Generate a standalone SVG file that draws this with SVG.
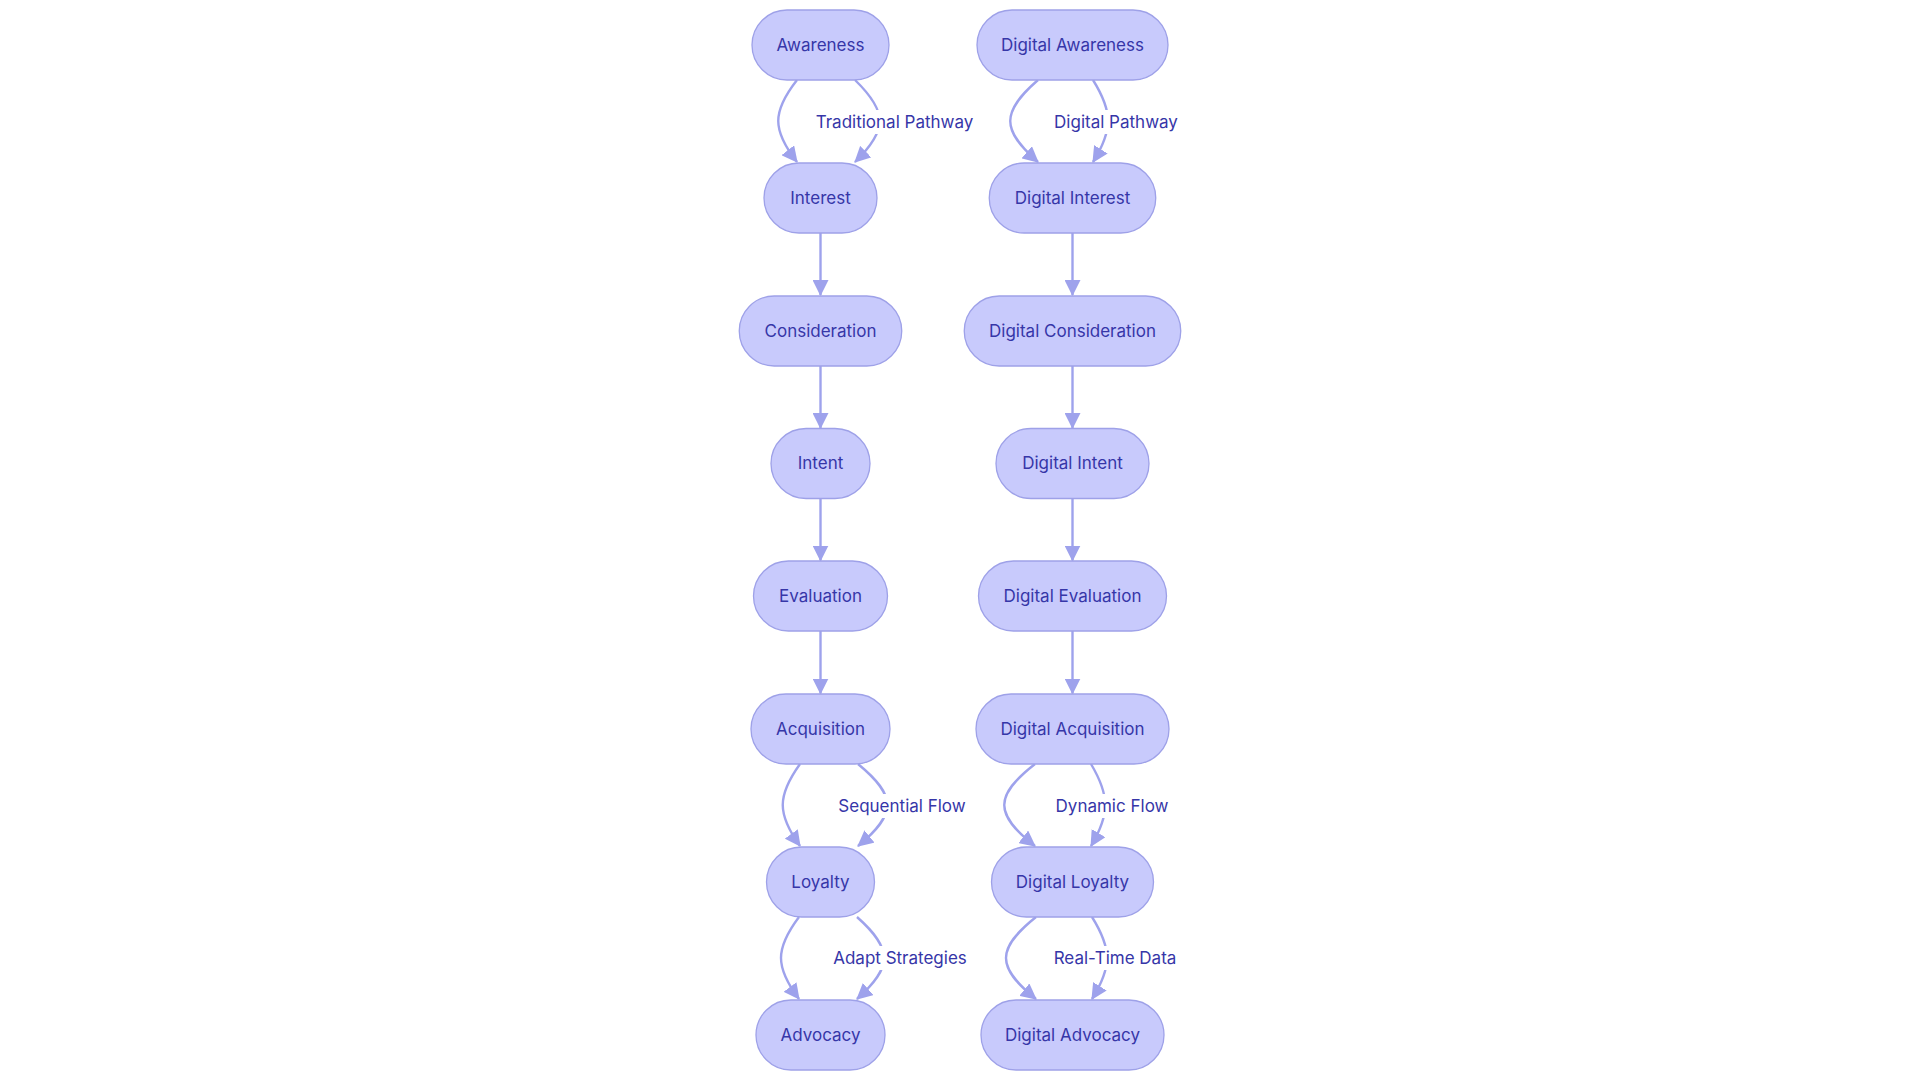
<svg xmlns="http://www.w3.org/2000/svg" width="1920" height="1080" viewBox="0 0 1920 1080">
<defs>
<style>
.node rect{fill:#c8cafc;stroke:#9ea1e8;stroke-width:1.3}
.node text,.lbl text{font-family:Inter,"Noto Sans",sans-serif;font-size:17px;fill:#3636a8;text-anchor:middle;dominant-baseline:central}
.edges path{fill:none;stroke:#9ea2ec;stroke-width:2.4}
.lbl rect{fill:#ffffff}
</style>
<marker id="arr" markerUnits="userSpaceOnUse" markerWidth="16" markerHeight="16" viewBox="0 0 15 15" refX="14" refY="7.5" orient="auto">
<path d="M0,0 L15,7.5 L0,15 z" fill="#9ea2ec"/>
</marker>
</defs>
<rect width="1920" height="1080" fill="#ffffff"/>
<g class="edges">
<path d="M797,80 C772,112 772,130 797,162" marker-end="url(#arr)"/>
<path d="M855,80 C888,112 888,130 855,162" marker-end="url(#arr)"/>
<path d="M1038,80 C1001,112 1001,130 1038,162" marker-end="url(#arr)"/>
<path d="M1093,80 C1113,112 1113,130 1093,162" marker-end="url(#arr)"/>
<path d="M820.5,233 L820.5,295" marker-end="url(#arr)"/>
<path d="M1072.5,233 L1072.5,295" marker-end="url(#arr)"/>
<path d="M820.5,366 L820.5,428" marker-end="url(#arr)"/>
<path d="M1072.5,366 L1072.5,428" marker-end="url(#arr)"/>
<path d="M820.5,498.5 L820.5,560.5" marker-end="url(#arr)"/>
<path d="M1072.5,498.5 L1072.5,560.5" marker-end="url(#arr)"/>
<path d="M820.5,631 L820.5,693.5" marker-end="url(#arr)"/>
<path d="M1072.5,631 L1072.5,693.5" marker-end="url(#arr)"/>
<path d="M800,764 C777,796 777,814 800,846" marker-end="url(#arr)"/>
<path d="M858,764 C897,796 897,814 858,846" marker-end="url(#arr)"/>
<path d="M1035,764 C994,796 994,814 1035,846" marker-end="url(#arr)"/>
<path d="M1091,764 C1110,796 1110,814 1091,846" marker-end="url(#arr)"/>
<path d="M799,917 C775,949 775,967 799,999" marker-end="url(#arr)"/>
<path d="M857,917 C893,949 893,967 857,999" marker-end="url(#arr)"/>
<path d="M1036,917 C996,949 996,967 1036,999" marker-end="url(#arr)"/>
<path d="M1092,917 C1112,949 1112,967 1092,999" marker-end="url(#arr)"/>
</g>
<g class="lbl">
<rect x="816" y="110" width="157" height="24"/><text x="894.5" y="121.5">Traditional Pathway</text>
<rect x="1054" y="110" width="124" height="24"/><text x="1116" y="121.5">Digital Pathway</text>
<rect x="839" y="794" width="126" height="24"/><text x="902" y="805.5">Sequential Flow</text>
<rect x="1058" y="794" width="108" height="24"/><text x="1112" y="805.5">Dynamic Flow</text>
<rect x="831" y="946" width="138" height="24"/><text x="900" y="957.5">Adapt Strategies</text>
<rect x="1054" y="946" width="122" height="24"/><text x="1115" y="957.5">Real-Time Data</text>
</g>
<g id="A" class="node"><rect x="752" y="10" width="137" height="70" rx="35"/><text x="820.5" y="44.5">Awareness</text></g>
<g id="B" class="node"><rect x="764" y="163" width="113" height="70" rx="35"/><text x="820.5" y="197.5">Interest</text></g>
<g id="C" class="node"><rect x="739.25" y="296" width="162.5" height="70" rx="35"/><text x="820.5" y="330.5">Consideration</text></g>
<g id="D" class="node"><rect x="771" y="428.5" width="99" height="70" rx="35"/><text x="820.5" y="463">Intent</text></g>
<g id="E" class="node"><rect x="753.5" y="561" width="134" height="70" rx="35"/><text x="820.5" y="595.5">Evaluation</text></g>
<g id="F" class="node"><rect x="751" y="694" width="139" height="70" rx="35"/><text x="820.5" y="728.5">Acquisition</text></g>
<g id="G" class="node"><rect x="766.5" y="847" width="108" height="70" rx="35"/><text x="820.5" y="881.5">Loyalty</text></g>
<g id="H" class="node"><rect x="756" y="1000" width="129" height="70" rx="35"/><text x="820.5" y="1034.5">Advocacy</text></g>
<g id="A2" class="node"><rect x="977" y="10" width="191" height="70" rx="35"/><text x="1072.5" y="44.5">Digital Awareness</text></g>
<g id="B2" class="node"><rect x="989.25" y="163" width="166.5" height="70" rx="35"/><text x="1072.5" y="197.5">Digital Interest</text></g>
<g id="C2" class="node"><rect x="964.25" y="296" width="216.5" height="70" rx="35"/><text x="1072.5" y="330.5">Digital Consideration</text></g>
<g id="D2" class="node"><rect x="996" y="428.5" width="153" height="70" rx="35"/><text x="1072.5" y="463">Digital Intent</text></g>
<g id="E2" class="node"><rect x="978.5" y="561" width="188" height="70" rx="35"/><text x="1072.5" y="595.5">Digital Evaluation</text></g>
<g id="F2" class="node"><rect x="976" y="694" width="193" height="70" rx="35"/><text x="1072.5" y="728.5">Digital Acquisition</text></g>
<g id="G2" class="node"><rect x="991.5" y="847" width="162" height="70" rx="35"/><text x="1072.5" y="881.5">Digital Loyalty</text></g>
<g id="H2" class="node"><rect x="981" y="1000" width="183" height="70" rx="35"/><text x="1072.5" y="1034.5">Digital Advocacy</text></g>
</svg>
